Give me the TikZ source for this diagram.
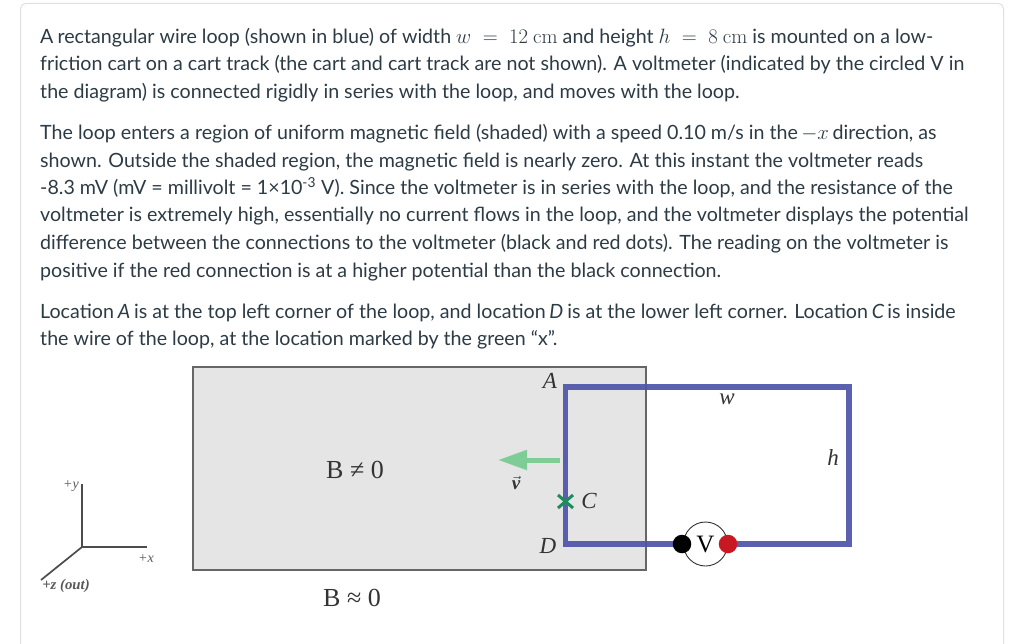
\documentclass[tikz,border=0pt]{standalone}
\usepackage[no-math]{fontspec}
\setmainfont{Lato}
\newfontfamily\figfont{Liberation Serif}
\usetikzlibrary{positioning,arrows.meta}
\definecolor{loopblue}{RGB}{78,84,168}
\definecolor{fieldgray}{RGB}{229,229,230}
\definecolor{arrowgreen}{RGB}{126,205,150}
\definecolor{xgreen}{RGB}{30,140,90}
\definecolor{dotred}{RGB}{200,25,35}
\definecolor{bodytext}{RGB}{45,59,69}
\tikzset{
  para/.style={anchor=base west,inner sep=0pt,text=bodytext,font=\fontsize{19.65}{22}\selectfont},
  lab/.style={inner sep=0pt,text=black!80,font=\figfont\fontsize{23}{26}\selectfont\itshape},
  blab/.style={inner sep=0pt,text=black!80,font=\figfont\fontsize{26}{28}\selectfont},
  axislab/.style={inner sep=0pt,text=black!65,font=\figfont\fontsize{14}{16}\selectfont\itshape},
  axisline/.style={line width=1.7pt,draw=black!70},
  wire/.style={line width=5.2pt,draw=loopblue,opacity=.92},
  dot/.style={circle,inner sep=0pt,minimum size=18.5pt},
}
\begin{document}
\begin{tikzpicture}[x=1pt,y=-1pt]
    \useasboundingbox (0,0) rectangle (1024,644);

    % card
    \fill[white] (0,0) rectangle (1024,644);
    \draw[black!12,line width=1pt,rounded corners=5pt] (20.5,660)--(20.5,3.5)--(1003.5,3.5)--(1003.5,660);

    % text
    \node[para] (l1) at (40,44) {A\hspace{-1pt} rectangular wire loop (shown in blue) of width $w\;=\;12\ \mathrm{cm}$ and height $h\;=\;8\ \mathrm{cm}$ is mounted on a low-};
    \node[para] (l2) at (40,71) {friction cart on a cart track (the cart and cart track are not shown). A voltmeter (indicated by the circled V in};
    \node[para] (l3) at (40,99) {the diagram) is connected rigidly in series with the loop, and moves with the loop.};
    \node[para] (l4) at (40,140) {The loop enters a region of uniform magnetic field (shaded) with a speed 0.10 m/s in the\hspace{-1.5pt} $-x$\hspace{-1.5pt} direction, as};
    \node[para] (l5) at (40,167.5) {shown. Outside the shaded region, the magnetic field is nearly zero. At this instant the voltmeter reads};
    \node[para] (l6) at (40,195) {-8.3 mV (mV = millivolt = 1×10\textsuperscript{-3} V). Since the voltmeter is in series with the loop, and the resistance of the};
    \node[para] (l7) at (40,222) {voltmeter is extremely high, essentially no current flows in the loop, and the voltmeter displays the potential};
    \node[para] (l8) at (40,249.5) {difference between the connections to the voltmeter (black and red dots). The reading on the voltmeter is};
    \node[para] (l9) at (40,277) {positive if the red connection is at a higher potential than the black connection.};
    \node[para] (l10) at (40,318) {Location\hspace{-1.2pt} \textit{A}\hspace{-1pt} is at the top left corner of the loop, and location\hspace{-1.2pt} \textit{D}\hspace{-1pt} is at the lower left corner. Location\hspace{-1.2pt} \textit{C}\hspace{-2pt} is inside};
    \node[para] (l11) at (40,345.5) {the wire of the loop, at the location marked by the green “x”.};

    % field region
    \draw[fill=fieldgray,draw=black!60,line width=1.4pt] (193,367) rectangle (646,570);

    % loop with voltmeter
    \coordinate (blackpt) at (682,544);
    \coordinate (redpt) at (728,544);
    \node[circle,draw=black!80,fill=white,line width=.9pt,minimum size=44pt,inner sep=0pt,
      font=\figfont\fontsize{25}{28}\selectfont] (volt) at (705.5,544) {V};
    \draw[wire] (blackpt)--(565.5,544)--(565.5,387)--(849,387)--(849,544)--(redpt);
    \node[dot,fill=black] (blackdot) at (blackpt) {};
    \node[dot,fill=dotred] (reddot) at (redpt) {};

    % velocity arrow and x mark
    \coordinate (vtail) at (560,460);
    \coordinate (vhead) at (498,460);
    \draw[draw=arrowgreen,line width=5pt,-{Triangle[length=29pt,width=19pt]}] (vtail)--(vhead);
    \draw[xgreen,line width=3pt] (558,495)--(573,508) (573,495)--(558,508);

    % labels
    \node[lab] (A) at (550,381) {A};
    \node[lab] (D) at (548,546) {D};
    \node[lab] (C) at (589,501) {C};
    \node[lab] (w) at (727,399) {w};
    \node[lab] (h) at (833,458) {h};
    \node[lab,font=\fontsize{19}{22}\selectfont] (v) at (516,483) {$\vec{\mbox{\figfont\bfseries\itshape v}}$};
    \node[blab] (Bne) at (355,470) {B ≠ 0};
    \node[blab] (Bap) at (352,598) {B ≈ 0};

    % axes
    \coordinate (origin) at (82,547);
    \coordinate (yend) at (82,484);
    \coordinate (xend) at (147,547);
    \coordinate (zend) at (41,580);
    \draw[axisline] (yend)--(origin)--(xend);
    \draw[axisline] (origin)--(zend);
    \node[axislab] (ylab) at (71,486) {+y};
    \node[axislab] (xlab) at (146,559) {+x};
    \node[axislab,font=\figfont\fontsize{14.8}{16}\selectfont\itshape\bfseries] (zlab) at (66,586) {+z (out)};
\end{tikzpicture}
\end{document}
